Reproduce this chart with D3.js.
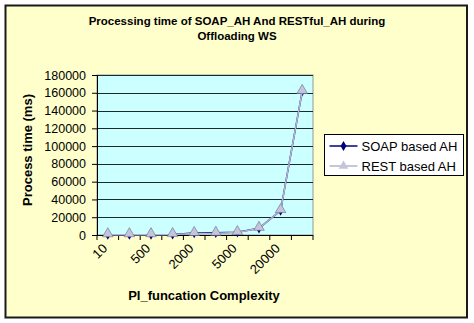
<!DOCTYPE html>
<html>
<head>
<meta charset="utf-8">
<script src="https://cdn.jsdelivr.net/npm/d3@7"></script>
<style>
  html, body { margin: 0; padding: 0; background: #ffffff; }
  svg { display: block; font-family: "Liberation Sans", Arial, sans-serif; }
</style>
</head>
<body>
<svg id="chart" width="474" height="323"></svg>
<script>
// Problem sizes (PI function complexity) on the category axis
const complexity = ["10", "100", "500", "1000", "2000", "3000", "5000", "10000", "20000", "50000"];
// Processing time in ms for each web-service style
const soapTimes = [300, 350, 400, 600, 2200, 2400, 3000, 7500, 27500, 161500];
const restTimes = [250, 300, 350, 500, 1700, 1900, 2700, 7500, 27500, 161500];
const yTicks = [0, 20000, 40000, 60000, 80000, 100000, 120000, 140000, 160000, 180000];
const seriesNames = ["SOAP based AH", "REST based AH"];

const svg = d3.select("#chart");

// outer chart frame
svg.append("rect").attr("x", 5.5).attr("y", 5.5).attr("width", 461.5).attr("height", 312)
  .attr("fill", "#ffffcc").attr("stroke", "#1a1a1a").attr("stroke-width", 2);

const plot = { left: 97, top: 75, right: 313, bottom: 235 };

const x = d3.scaleBand().domain(complexity).range([plot.left, plot.right]);
const y = d3.scaleLinear().domain([0, 180000]).range([plot.bottom, plot.top]);

// plot area
svg.append("rect").attr("x", plot.left).attr("y", plot.top)
  .attr("width", plot.right - plot.left).attr("height", plot.bottom - plot.top)
  .attr("fill", "#ccffff").attr("stroke", "#8c9c9c").attr("stroke-width", 1);

// horizontal gridlines
svg.append("g").selectAll("line").data(yTicks.filter(d => d > 0)).join("line")
  .attr("x1", plot.left).attr("x2", plot.right)
  .attr("y1", d => Math.round(y(d)) + 0.5).attr("y2", d => Math.round(y(d)) + 0.5)
  .attr("stroke", "#1c2a2a").attr("stroke-width", 1.2);

// y axis
const yAxis = svg.append("g").attr("transform", `translate(${plot.left},0)`)
  .call(d3.axisLeft(y).tickValues(yTicks).tickSize(5).tickPadding(6).tickFormat(d3.format("d")));
yAxis.select(".domain").attr("stroke", "#000");
yAxis.selectAll(".tick line").attr("stroke", "#000");
yAxis.selectAll("text").attr("font-size", 12.5).attr("fill", "#000")
  .attr("font-family", "Liberation Sans, Arial, sans-serif");

// x axis: ticks sit at category boundaries
const xAxisG = svg.append("g").attr("transform", `translate(0,${plot.bottom})`);
xAxisG.append("line").attr("x1", plot.left - 5).attr("x2", plot.right)
  .attr("y1", 0.5).attr("y2", 0.5).attr("stroke", "#000");
const bounds = complexity.map(c => x(c)).concat([plot.right]);
xAxisG.selectAll("line.tk").data(bounds).join("line").attr("class", "tk")
  .attr("x1", d => d).attr("x2", d => d).attr("y1", 0).attr("y2", 5)
  .attr("stroke", "#000");
// every second category is labelled
xAxisG.selectAll("text").data(complexity.filter((c, i) => i % 2 === 0)).join("text")
  .attr("transform", d => `translate(${x(d) + x.bandwidth() / 2 - 3},${11}) rotate(-45)`)
  .attr("text-anchor", "end").attr("dy", "0.35em")
  .attr("font-size", 13).attr("fill", "#000").text(d => d);

// series lines and markers
const line = d3.line()
  .x((d, i) => x(complexity[i]) + x.bandwidth() / 2)
  .y(d => y(d));

svg.append("path").datum(soapTimes).attr("d", line)
  .attr("fill", "none").attr("stroke", "#000080").attr("stroke-width", 1.5);
svg.append("g").selectAll("path").data(soapTimes).join("path")
  .attr("d", d3.symbol(d3.symbolDiamond, 30))
  .attr("transform", (d, i) => `translate(${x(complexity[i]) + x.bandwidth() / 2},${y(d)})`)
  .attr("fill", "#000080");

svg.append("path").datum(restTimes).attr("d", line)
  .attr("fill", "none").attr("stroke", "#b4b4cc").attr("stroke-width", 1.5);
svg.append("g").selectAll("path").data(restTimes).join("path")
  .attr("d", d3.symbol(d3.symbolTriangle, 48))
  .attr("transform", (d, i) => `translate(${x(complexity[i]) + x.bandwidth() / 2},${y(d) - 1})`)
  .attr("fill", "#c4c4da").attr("stroke", "#6a6a8a").attr("stroke-width", 0.6);

// titles
const title = svg.append("text").attr("text-anchor", "middle")
  .attr("font-weight", "bold").attr("font-size", 11.5).attr("fill", "#000");
title.append("tspan").attr("x", 237).attr("y", 24.5).text("Processing time of SOAP_AH And RESTful_AH during");
title.append("tspan").attr("x", 237).attr("y", 40).text("Offloading WS");

svg.append("text").attr("transform", "translate(32,150) rotate(-90)")
  .attr("text-anchor", "middle").attr("font-weight", "bold").attr("font-size", 13)
  .attr("fill", "#000").text("Process time (ms)");

svg.append("text").attr("x", 204).attr("y", 300).attr("text-anchor", "middle")
  .attr("font-weight", "bold").attr("font-size", 13).attr("fill", "#000")
  .text("PI_funcation Complexity");

// legend
const lg = svg.append("g").attr("transform", "translate(324.5,134.5)");
lg.append("rect").attr("width", 139).attr("height", 41)
  .attr("fill", "#ffffff").attr("stroke", "#000").attr("stroke-width", 1);
const entries = [
  { name: seriesNames[0], color: "#000080", sym: d3.symbolDiamond, size: 30, fill: "#000080" },
  { name: seriesNames[1], color: "#b4b4cc", sym: d3.symbolTriangle, size: 40, fill: "#c4c4da" }
];
entries.forEach((e, i) => {
  const cy = 11.5 + i * 20;
  lg.append("line").attr("x1", 5).attr("x2", 33).attr("y1", cy).attr("y2", cy)
    .attr("stroke", e.color).attr("stroke-width", 1.5);
  lg.append("path").attr("d", d3.symbol(e.sym, e.size))
    .attr("transform", `translate(19,${cy})`).attr("fill", e.fill);
  lg.append("text").attr("x", 37).attr("y", cy).attr("dy", "0.36em")
    .attr("font-size", 13).attr("fill", "#000").text(e.name);
});
</script>
</body>
</html>
